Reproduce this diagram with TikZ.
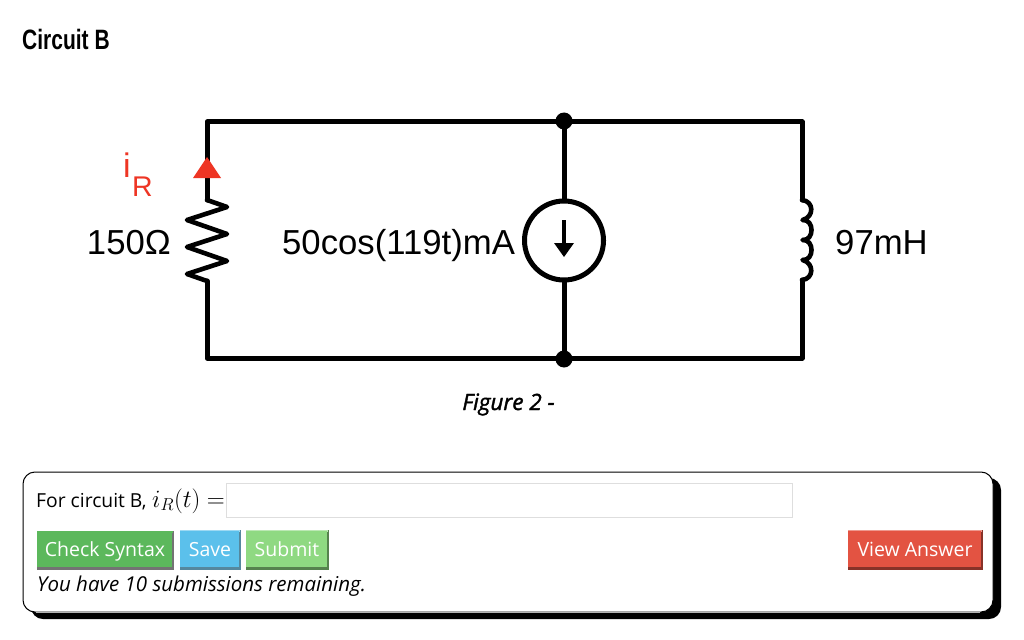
\documentclass[tikz,border=0pt]{standalone}
\usepackage{fontspec}
\setmainfont{Open Sans}
\newfontfamily\lib{Liberation Sans}
\newfontfamily\cond{Liberation Sans}[FakeStretch=0.75]
\newfontfamily\figf{Open Sans}[FakeBold=1.6]
\definecolor{redc}{HTML}{EE3524}
\definecolor{gbtn}{HTML}{5CB85C}
\definecolor{bbtn}{HTML}{5BC0EB}
\definecolor{lbtn}{HTML}{8FD982}
\definecolor{rbtn}{HTML}{E35342}
\tikzset{
  wire/.style={line width=5pt,line join=round,line cap=round},
  part/.style={line width=4.6pt,line join=round,line cap=round},
  dot/.style={circle,fill=black,inner sep=0pt,minimum size=17pt},
  src/.style={circle,draw=black,line width=5pt,fill=white,inner sep=0pt,minimum size=79pt},
  clabel/.style={font=\lib\fontsize{34.7}{38}\selectfont,inner sep=0pt,text=black},
  ui/.style={font=\fontsize{19.3}{22}\selectfont,inner sep=0pt},
  btn/.style={font=\fontsize{19.5}{22}\selectfont,text=white,inner sep=0pt,anchor=base},
}
\newcommand{\button}[7]{% x0 y0 x1 y1 fill shade light
  \fill[#6] (#1,#2) rectangle (#3,#4);
  \fill[#7] (#1,#2) rectangle (#3-1.5,#2+1.5);
  \fill[#5] (#1,#2+1) rectangle (#3-2.5,#4-3);
}
\begin{document}
\begin{tikzpicture}[x=1pt,y=-1pt]
\useasboundingbox (0,0) rectangle (1024,639);
\fill[white] (0,0) rectangle (1024,639);
\node[anchor=base west,inner sep=0pt,font=\cond\bfseries\fontsize{28}{30}\selectfont] (title) at (22,50) {Circuit B};
% circuit coordinates
\coordinate (tl) at (207,122);
\coordinate (tr) at (802,122);
\coordinate (bl) at (207,358);
\coordinate (br) at (802,358);
\coordinate (rt) at (207,200);
\coordinate (rb) at (207,281);
\coordinate (lt) at (802,200);
\coordinate (c1) at (802.5,220);
\coordinate (c2) at (802.5,240);
\coordinate (c3) at (802.5,260);
\coordinate (lb) at (802,280);
\node[dot] (ntop) at (564,121) {};
\node[dot] (nbot) at (564,359) {};
\node[src] (src) at (564,240.5) {};
\draw[wire] (rt) -- (tl) -- (tr) -- (lt);
\draw[wire] (rb) -- (bl) -- (br) -- (lb);
\draw[wire] (ntop) -- (src);
\draw[wire] (src) -- (nbot);
% resistor
\draw[part]
  (rt) -- ++(20,7) -- ++(-40,13) -- ++(40,14) -- ++(-40,13) -- ++(40,14) -- ++(-40,13) -- (rb);
% inductor
\draw[part]
  (lt) .. controls +(12,1) and +(12,-3) .. (c1)
  .. controls +(12,-1) and +(12,1) .. (c2)
  .. controls +(12,-1) and +(12,1) .. (c3)
  .. controls +(12,3) and +(12,-1) .. (lb);
% source arrow
\coordinate (at) at (564,220);
\coordinate (ah) at (564,246);
\draw[line width=4.6pt] (at) -- (ah);
\fill (554,243) -- (574,243) -- (564,257) -- cycle;
% red arrow
\fill[redc] (207,157) -- (221,178) -- (193,178) -- cycle;
\node[anchor=base west,inner sep=0pt,font=\lib\fontsize{34}{36}\selectfont,text=redc] (ii) at (123,178) {i};
\node[anchor=base west,inner sep=0pt,font=\lib\fontsize{28.5}{32}\selectfont,text=redc] (ir) at (132,196) {R};
\node[clabel,anchor=base east] (r) at (171,254) {150Ω};
\node[clabel,anchor=base west] (s) at (282,254) {50cos(119t)mA};
\node[clabel,anchor=base west] (l) at (835,254) {97mH};
\node[anchor=base,inner sep=0pt,font=\figf\itshape\fontsize{22.5}{24}\selectfont] (fig) at (508.5,410) {Figure 2 -};
% panel
\fill[black,rounded corners=12pt] (31,478) rectangle (1001,619);
\fill[white,draw=black,line width=1pt,rounded corners=12pt] (23,472) rectangle (993,612);
\draw[gray!60,line width=1pt] (36,612) -- (980,612);
\node[ui,anchor=base west] (q) at (36,507) {For circuit B,};
\node[anchor=base west,inner sep=0pt,font=\fontsize{23}{26}\selectfont] (qm) at (152,507) {\(i_R(t)\)};
\node[anchor=base east,inner sep=0pt,font=\fontsize{23}{26}\selectfont] (qe) at (225,507) {\(=\)};
\draw[draw=black!13,fill=white,line width=1pt] (226.5,483.5) rectangle (792.5,517.5);
\button{37}{531}{174}{570}{gbtn}{black!55}{gbtn}
\node[btn] (b1) at (105,556) {Check Syntax};
\button{180}{530}{241}{570}{bbtn}{bbtn!60!black!85}{bbtn!60!white}
\node[btn] (b2) at (210,556) {Save};
\button{246}{530}{329}{570}{lbtn}{lbtn!60!black}{lbtn!60!white}
\node[btn] (b3) at (287,556) {Submit};
\button{848}{530}{983}{570}{rbtn}{rbtn!60!black}{rbtn!60!white}
\node[btn] (b4) at (915,556) {View Answer};
\node[ui,anchor=base west,font=\fontsize{20.5}{24}\selectfont\itshape] (rem) at (37,591) {You have 10 submissions remaining.};
\end{tikzpicture}
\end{document}
